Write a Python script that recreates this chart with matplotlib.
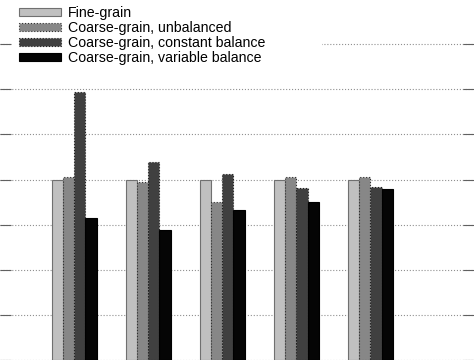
import numpy as np
import matplotlib.pyplot as plt
from matplotlib.patches import Rectangle

series = ['Fine-grain', 'Coarse-grain, unbalanced',
          'Coarse-grain, constant balance', 'Coarse-grain, variable balance']
fine = [1.0, 1.0, 1.0, 1.0, 1.0]
unbal = [1.013, 0.985, 0.876, 1.013, 1.013]
const = [1.487, 1.10, 1.028, 0.952, 0.956]
varbal = [0.787, 0.722, 0.833, 0.876, 0.948]

colors = ['#c0c0c0', '#878787', '#404040', '#050505']
edges = ['#707070', '#303030', '#202020', '#000000']
styles = ['-', ':', ':', '-']

plt.rcParams['font.family'] = ['Liberation Sans', 'DejaVu Sans']

fig = plt.figure(figsize=(4.74, 3.6), dpi=100)
ax = fig.add_axes([0, 0, 1, 1])

x = np.arange(1, 6)
w = 0.152
for k, vals in enumerate([fine, unbal, const, varbal]):
    ax.bar(x + (k - 1.5) * w, vals, w, color=colors[k], edgecolor=edges[k],
           linestyle=styles[k], linewidth=0.8, label=series[k], zorder=3)

ax.set_xlim(0, 6.4)
ax.set_ylim(0, 1.995)
ax.set_yticks(np.arange(0, 1.8, 0.25))
ax.set_xticks([])
ax.grid(axis='y', linestyle=':', color='#909090', linewidth=0.8, zorder=0)
ax.tick_params(axis='y', direction='in', length=8, left=True, right=True,
               labelleft=False, color='#606060')
for s in ax.spines.values():
    s.set_visible(False)

# white box behind the legend hides the grid there
ax.add_patch(Rectangle((0.025, 0.805), 0.655, 0.2, transform=ax.transAxes,
                       facecolor='white', edgecolor='none', zorder=4))

leg = ax.legend(loc='upper left', bbox_to_anchor=(0.026, 1.0), frameon=False,
                fontsize=10.2, handlelength=3.0, handleheight=0.5,
                labelspacing=0.06, handletextpad=0.45, borderaxespad=0.05)
leg.set_zorder(5)

plt.savefig('out.png', dpi=100)
